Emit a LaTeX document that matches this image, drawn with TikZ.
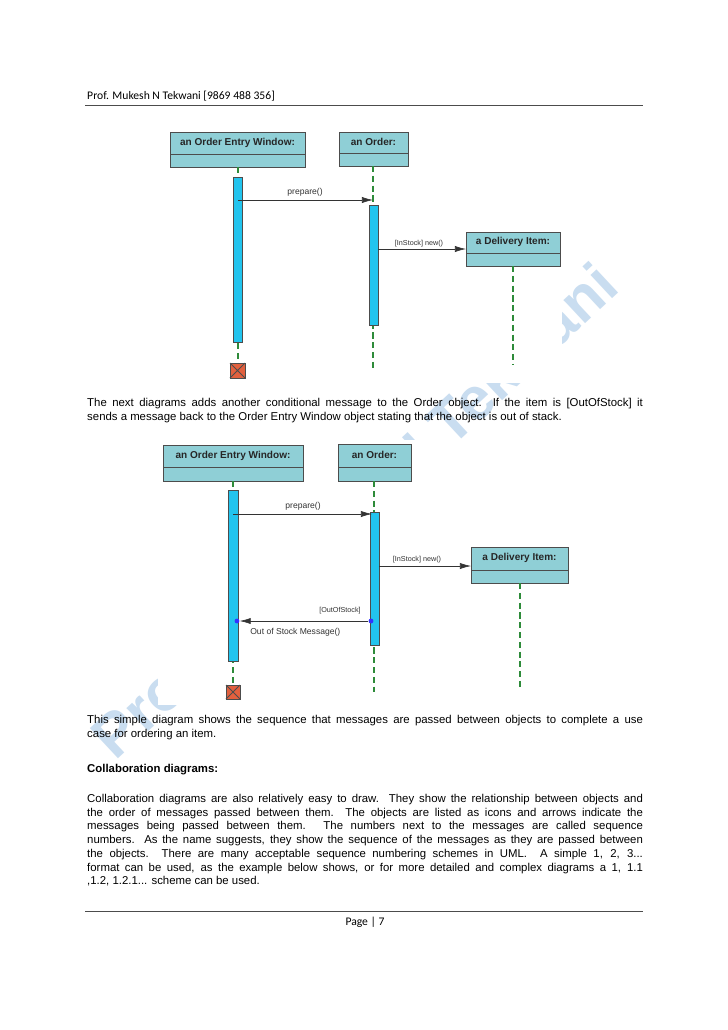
\documentclass[tikz,border=0pt]{standalone}
\usepackage{fontspec}
\setmainfont{Liberation Sans}
\newfontfamily\calib{Carlito}
\usetikzlibrary{arrows.meta}
\definecolor{boxfill}{HTML}{8FCFD6}
\definecolor{actfill}{HTML}{22C4EE}
\definecolor{lifeg}{HTML}{2E8B3A}
\definecolor{xred}{HTML}{E2603E}
\definecolor{wmark}{HTML}{C9DDF0}
\tikzset{
  objbox/.style={draw=black!70, fill=boxfill, line width=0.8pt},
  actbar/.style={draw=black!70, fill=actfill, line width=0.6pt},
  lifeline/.style={draw=lifeg, dash pattern=on 5pt off 3pt, line width=1.8pt},
  msg/.style={draw=black!80, line width=0.5pt, -{Latex[length=9pt,width=5pt]}},
  objtitle/.style={font=\bfseries\fontsize{8.2}{9}\selectfont, text=black!85},
  msglab/.style={font=\fontsize{7}{8}\selectfont, text=black!80},
  smalllab/.style={font=\fontsize{5.9}{7}\selectfont, text=black!80},
  para/.style={anchor=north west, text width=454pt, align=justify, inner sep=0pt, font=\fontsize{9.3}{11.2}\selectfont},
  dot/.style={fill=blue!80, circle, inner sep=0pt, minimum size=4pt},
  xbox/.style={draw=black!70, fill=xred, line width=0.6pt}
}
\begin{document}
\begin{tikzpicture}[x=0.817pt,y=-0.817pt]
\useasboundingbox (0,0) rectangle (728,1030);
\fill[white] (0,0) rectangle (728,1030);
% watermark
\node[text=wmark, font=\bfseries\fontsize{49}{49}\selectfont, rotate=43] (wm) at (354,510) {Prof. Mukesh N Tekwani};
% image backgrounds covering the watermark
\fill[white] (165,127) rectangle (562,383);
\fill[white] (158,440) rectangle (575,705);
% header
\node[anchor=base west, font=\calib\fontsize{9.5}{11}\selectfont, inner sep=0pt] (hdr) at (87,99) {Prof. Mukesh N Tekwani [9869 488 356]};
\draw[black!70, line width=0.5pt] (85,105) -- (643,105);

% ===== Diagram 1 =====
\draw[objbox] (170,132) rectangle (305,167); \draw[black!70,line width=0.8pt] (170,154) -- (305,154);
\node[objtitle] (a1) at (237.5,143) {an Order Entry Window:};
\draw[objbox] (339,132) rectangle (408,166); \draw[black!70,line width=0.8pt] (339,153) -- (408,153);
\node[objtitle] (b1) at (373.5,142) {an Order:};
\draw[objbox] (466,232) rectangle (560,266); \draw[black!70,line width=0.8pt] (466,253) -- (560,253);
\node[objtitle] (c1) at (513,242) {a Delivery Item:};
\coordinate (l1a) at (238,167); \coordinate (l1b) at (238,363);
\coordinate (l2a) at (373,166); \coordinate (l2b) at (373,370);
\coordinate (l3a) at (513,266); \coordinate (l3b) at (513,365);
\draw[lifeline] (l1a) -- (l1b);
\draw[lifeline] (l2a) -- (l2b);
\draw[lifeline] (l3a) -- (l3b);
\draw[actbar] (233,177) rectangle (242,342);
\draw[actbar] (369,205) rectangle (378,325);
\draw[xbox] (230,363) rectangle (245,378); \draw[black!70,line width=0.6pt] (230,363) -- (245,378) (230,378) -- (245,363);
\coordinate (p1s) at (238,200); \coordinate (p1e) at (373,200);
\draw[msg] (p1s) -- (p1e);
\node[msglab] (p1l) at (305,192) {prepare()};
\coordinate (n1s) at (378,249); \coordinate (n1e) at (466,249);
\draw[msg] (n1s) -- (n1e);
\node[smalllab, anchor=base] (n1l) at (419,245) {[InStock] new()};

% ===== Paragraph 1 =====
\node[para] (t1) at (87,398) {The next diagrams adds another conditional message to the Order object.\ \ If the item is [OutOfStock] it\linebreak sends a message back to the Order Entry Window object stating that the object is out of stack.};

% ===== Diagram 2 =====
\draw[objbox] (163,445) rectangle (303,481); \draw[black!70,line width=0.8pt] (163,467) -- (303,467);
\node[objtitle] (a2) at (233,456) {an Order Entry Window:};
\draw[objbox] (338,444) rectangle (411,481); \draw[black!70,line width=0.8pt] (338,467) -- (411,467);
\node[objtitle] (b2) at (374.5,455) {an Order:};
\draw[objbox] (471,547) rectangle (568,583); \draw[black!70,line width=0.8pt] (471,570) -- (568,570);
\node[objtitle] (c2) at (519.5,558) {a Delivery Item:};
\coordinate (m1a) at (233,481); \coordinate (m1b) at (233,685);
\coordinate (m2a) at (374,481); \coordinate (m2b) at (374,692);
\coordinate (m3a) at (520,583); \coordinate (m3b) at (520,688);
\draw[lifeline] (m1a) -- (m1b);
\draw[lifeline] (m2a) -- (m2b);
\draw[lifeline] (m3a) -- (m3b);
\draw[actbar] (228,490) rectangle (238,661);
\draw[actbar] (370,512) rectangle (379,645);
\draw[xbox] (226,685) rectangle (240,699); \draw[black!70,line width=0.6pt] (226,685) -- (240,699) (226,699) -- (240,685);
\coordinate (p2s) at (233,514); \coordinate (p2e) at (372,514);
\draw[msg] (p2s) -- (p2e);
\node[msglab] (p2l) at (303,506) {prepare()};
\coordinate (n2s) at (379,566); \coordinate (n2e) at (471,566);
\draw[msg] (n2s) -- (n2e);
\node[smalllab, anchor=base] (n2l) at (417,561) {[InStock] new()};
\node[dot] (d2) at (371,621) {};
\node[dot] (d1) at (237,621) {};
\draw[msg] (d2) -- (d1);
\node[smalllab, anchor=base east] (o1) at (365,612) {[OutOfStock]};
\node[msglab, anchor=base west] (o2) at (246,634) {Out of Stock Message()};

% ===== Paragraph 2 =====
\node[para] (t2) at (87,715) {This simple diagram shows the sequence that messages are passed between objects to complete a use\linebreak case for ordering an item.};
\node[para, font=\bfseries\fontsize{9.3}{11.2}\selectfont] (t3) at (87,764) {Collaboration diagrams:};
\node[para] (t4) at (87,794) {Collaboration diagrams are also relatively easy to draw.\ \ They show the relationship between objects and\linebreak
the order of messages passed between them.\ \ The objects are listed as icons and arrows indicate the\linebreak
messages being passed between them. The numbers next to the messages are called sequence\linebreak
numbers.\ \ As the name suggests, they show the sequence of the messages as they are passed between\linebreak
the objects.\ \ There are many acceptable sequence numbering schemes in UML.\ \ A simple 1, 2, 3...\linebreak
format can be used, as the example below shows, or for more detailed and complex diagrams a 1, 1.1\linebreak
,1.2, 1.2.1... scheme can be used.};

% footer
\draw[black!70, line width=0.5pt] (85,911) -- (643,911);
\node[anchor=base, font=\calib\fontsize{9.5}{11}\selectfont, inner sep=0pt] (pg) at (365,925) {Page | 7};
\end{tikzpicture}
\end{document}
